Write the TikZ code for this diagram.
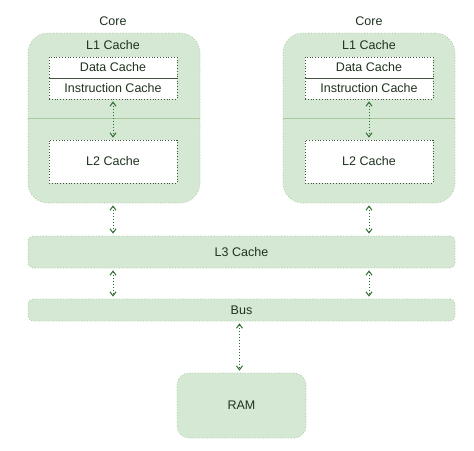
\documentclass[tikz,border=0pt]{standalone}
\usepackage{fontspec}
\setmainfont{Liberation Sans}
\usetikzlibrary{arrows.meta}
\definecolor{gfill}{HTML}{D5E8D4}
\definecolor{gline}{HTML}{A9C99B}
\definecolor{gdark}{HTML}{2F6B2F}
\definecolor{txt}{HTML}{1F331F}
\tikzset{
  x=1pt, y=-1pt,
  every node/.style={font=\fontsize{12.5}{14}\selectfont, text=txt, inner sep=0pt},
  core/.style={draw=gline, dotted, line width=0.8pt, fill=gfill, rounded corners=20pt},
  bar/.style={draw=gline, dotted, line width=0.8pt, fill=gfill, rounded corners=5pt},
  inner/.style={draw=txt!85, dotted, line width=0.8pt, fill=white},
  link/.style={draw=gdark, dotted, line width=1pt, {Straight Barb[length=4pt,width=6pt]}-{Straight Barb[length=4pt,width=6pt]}, shorten <=2pt, shorten >=2pt},
  lbl/.style={}
}
\begin{document}
\begin{tikzpicture}
\useasboundingbox (0,0) rectangle (474,450);
% cores
\node[core, minimum width=172pt, minimum height=170pt] (coreL) at (114,118) {};
\node[core, minimum width=172pt, minimum height=170pt] (coreR) at (369,118) {};
\draw[gline, line width=0.6pt] (coreL.west) -- (coreL.east);
\draw[gline, line width=0.6pt] (coreR.west) -- (coreR.east);
\node[lbl] (coreLt) at (113,21) {Core};
\node[lbl] (coreRt) at (369,21) {Core};
\node[lbl] (l1Lt) at (113,45) {L1 Cache};
\node[lbl] (l1Rt) at (369,45) {L1 Cache};
% L1 inner boxes
\node[inner, minimum width=128pt, minimum height=21pt] (dataL) at (113,67.5) {Data Cache};
\node[inner, minimum width=128pt, minimum height=21pt] (instrL) at (113,88.5) {Instruction Cache};
\node[inner, minimum width=128pt, minimum height=21pt] (dataR) at (369,67.5) {Data Cache};
\node[inner, minimum width=128pt, minimum height=21pt] (instrR) at (369,88.5) {Instruction Cache};
\draw[txt!85, line width=0.7pt] (dataL.south west) -- (dataL.south east);
\draw[txt!85, line width=0.7pt] (dataR.south west) -- (dataR.south east);
% L2
\node[inner, minimum width=128pt, minimum height=43pt] (l2L) at (113,161.5) {L2 Cache};
\node[inner, minimum width=128pt, minimum height=43pt] (l2R) at (369,161.5) {L2 Cache};
% L3, bus, RAM
\node[bar, minimum width=427pt, minimum height=32pt] (l3) at (241.5,252) {L3 Cache};
\node[bar, minimum width=427pt, minimum height=22pt] (bus) at (241.5,310) {Bus};
\node[bar, rounded corners=12pt, minimum width=129pt, minimum height=65pt] (ram) at (241.5,405.5) {RAM};
% links
\draw[link] (instrL.south) -- (l2L.north);
\draw[link] (instrR.south) -- (l2R.north);
\draw[link] (coreL.south -| l2L.south) -- (l2L.south |- l3.north);
\draw[link] (coreR.south -| l2R.south) -- (l2R.south |- l3.north);
\draw[link] (l2L.south |- l3.south) -- (l2L.south |- bus.north);
\draw[link] (l2R.south |- l3.south) -- (l2R.south |- bus.north);
\draw[link] ([xshift=-2pt]bus.south) -- ([xshift=-2pt]ram.north);
\end{tikzpicture}
\end{document}
